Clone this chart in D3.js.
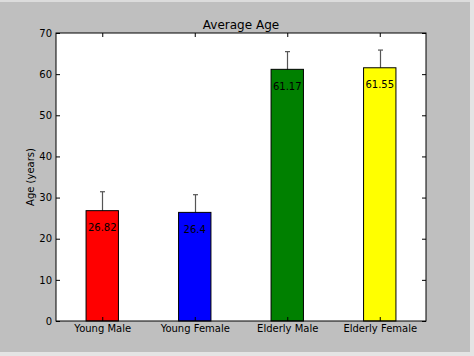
<!DOCTYPE html>
<html><head><meta charset="utf-8">
<script src="https://cdn.jsdelivr.net/npm/d3@7"></script>
<style>html,body{margin:0;padding:0;background:#bfbfbf;overflow:hidden}</style>
</head><body>
<script>
const categories = ["Young Male", "Young Female", "Elderly Male", "Elderly Female"];
const ages = [26.82, 26.4, 61.17, 61.55];
const errors = [4.6, 4.3, 4.3, 4.3];
const colors = ["#ff0000", "#0000ff", "#008000", "#ffff00"];
const yTicks = [0, 10, 20, 30, 40, 50, 60, 70];
const title = "Average Age";
const yLabel = "Age (years)";

const W = 474, H = 356;
const L = 56, R = 426, T = 33, B = 321;
const font = "DejaVu Sans, sans-serif";

const svg = d3.select("body").append("svg").attr("width", W).attr("height", H);
svg.append("rect").attr("width", W).attr("height", H).attr("fill", "#bfbfbf");
svg.append("rect").attr("x", 0).attr("y", 0).attr("width", W).attr("height", 2).attr("fill", "#dcdcdc");
svg.append("rect").attr("x", 470).attr("y", 0).attr("width", 4).attr("height", H).attr("fill", "#e4e4e4");
svg.append("rect").attr("x", 0).attr("y", 352).attr("width", W).attr("height", 4).attr("fill", "#e4e4e4");

const x = d3.scaleLinear().domain([-0.5, categories.length - 0.5]).range([L, R]);
const y = d3.scaleLinear().domain([0, 70]).range([B, T]);
const bw = 0.35;

svg.append("rect").attr("x", L).attr("y", T).attr("width", R - L).attr("height", B - T).attr("fill", "#fff");

const idx = categories.map((d, i) => i);

// error bars (upper part visible)
const eb = svg.append("g").attr("stroke", "#555").attr("stroke-width", 1.2);
idx.forEach(i => {
  const cx = Math.round(x(i)) + 0.5;
  eb.append("line").attr("x1", cx).attr("x2", cx).attr("y1", y(ages[i] - errors[i])).attr("y2", y(ages[i] + errors[i]));
  eb.append("line").attr("x1", cx - 2.5).attr("x2", cx + 2.5).attr("y1", y(ages[i] + errors[i])).attr("y2", y(ages[i] + errors[i]));
});

// bars
svg.append("g").selectAll("rect").data(idx).join("rect")
  .attr("x", i => x(i - bw / 2))
  .attr("y", i => y(ages[i]))
  .attr("width", i => x(i + bw / 2) - x(i - bw / 2))
  .attr("height", i => y(0) - y(ages[i]))
  .attr("fill", i => colors[i])
  .attr("stroke", "#000").attr("stroke-width", 1);

// value labels
svg.append("g").selectAll("text").data(idx).join("text")
  .attr("x", i => x(i)).attr("y", i => y(ages[i] - 5))
  .attr("text-anchor", "middle")
  .attr("font-family", font).attr("font-size", "10px").attr("fill", "#000")
  .text(i => String(ages[i]));

// axes with inward ticks
const tickLen = 4;
const gB = svg.append("g").attr("transform", `translate(0,${B})`)
  .call(d3.axisBottom(x).tickValues(idx).tickFormat(i => categories[i]).tickSizeInner(-tickLen).tickSizeOuter(0).tickPadding(4));
const gT = svg.append("g").attr("transform", `translate(0,${T})`)
  .call(d3.axisTop(x).tickValues(idx).tickFormat("").tickSizeInner(-tickLen).tickSizeOuter(0));
const gL = svg.append("g").attr("transform", `translate(${L},0)`)
  .call(d3.axisLeft(y).tickValues(yTicks).tickFormat(d3.format("d")).tickSizeInner(-tickLen).tickSizeOuter(0).tickPadding(4));
const gR = svg.append("g").attr("transform", `translate(${R},0)`)
  .call(d3.axisRight(y).tickValues(yTicks).tickFormat("").tickSizeInner(-tickLen).tickSizeOuter(0));
[gB, gT, gL, gR].forEach(g => {
  g.select(".domain").remove();
  g.selectAll("line").attr("stroke", "#000");
  g.selectAll("text").attr("font-family", font).attr("font-size", "10px").attr("fill", "#000");
});

// frame
svg.append("rect").attr("x", L).attr("y", T).attr("width", R - L).attr("height", B - T)
  .attr("fill", "none").attr("stroke", "#000").attr("stroke-width", 1);

// title
svg.append("text").attr("x", (L + R) / 2).attr("y", T - 4).attr("text-anchor", "middle")
  .attr("font-family", font).attr("font-size", "12px").attr("fill", "#000").text(title);

// y label
svg.append("text").attr("transform", `translate(34,${(T + B) / 2}) rotate(-90)`)
  .attr("text-anchor", "middle")
  .attr("font-family", font).attr("font-size", "10px").attr("fill", "#000").text(yLabel);
</script>
</body></html>
